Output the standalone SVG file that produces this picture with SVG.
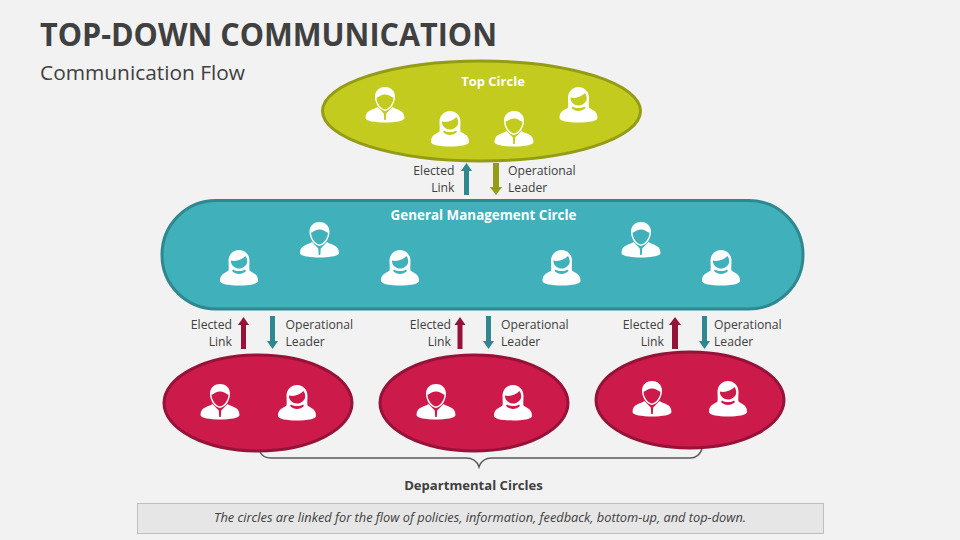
<svg xmlns="http://www.w3.org/2000/svg" width="960" height="540" viewBox="0 0 960 540">
<style>
text{font-family:"Open Sans","Liberation Sans",sans-serif;fill:#404040}
.lbl{font-size:12.200px}
.end{text-anchor:end}
.head{font-weight:700;fill:#fff;text-anchor:middle}
.red{fill:#CC1A4A;stroke:#961239;stroke-width:3}
.ic{fill:#fff;fill-rule:evenodd}
</style>
<defs>
<symbol id="male" overflow="visible" viewBox="-20 0 40 38" width="40" height="38">
<path class="ic" d="M-10,10C-10,3-5,0 0,0C5,0 10,3 10,10C10,16 6,23 0,24C-6,23-10,16-10,10ZM-8.500,10.500C-6,10.500-4,7 0,7.500C4,7 6,10.500 8.500,10.500C8.500,16 4,22 0,22.500C-4,22-8.500,16-8.500,10.500Z"/>
<path class="ic" d="M-7.500,20C-11,23-19.500,22.500-19.500,31C-19.500,34-10,35.500 0,35.500C10,35.500 19.500,34 19.500,31C19.500,22.500 11,23 7.500,20L1.200,26.500L.8,33H-.8L-1.200,26.500Z"/>
</symbol>
<symbol id="female" overflow="visible" viewBox="-20 0 40 38" width="40" height="38">
<path class="ic" d="M-10.500,11C-10.500,4-5.500,0 0,0C5.500,0 10.500,4 10.500,11C10.500,15 10,18 10.500,20.500C14,23.500 19,23.500 19,31C19,34 10,35.500 0,35.500C-10,35.500-19,34-19,31C-19,23.500-14,23.500-10.500,20.500C-10,18-10.500,15-10.500,11ZM-8,10.500C-3,12 3,9.500 6.500,6C8,8 8.500,11 8,13C7,16.500 3,18.500 0,18.500C-4,18.500-8.500,15-8,10.500ZM-6,19.500C-3,21.500 3,21.500 6,19.500L7,21C3,25-3,25-7,21Z"/>
</symbol>
</defs>
<rect width="960" height="540" fill="#F2F2F2"/>
<text x="40" y="46" font-size="33" font-weight="700" textLength="457" lengthAdjust="spacingAndGlyphs">TOP-DOWN COMMUNICATION</text>
<text x="40" y="80" font-size="20" textLength="205" lengthAdjust="spacingAndGlyphs">Communication Flow</text>

<g id="connectors">
<path d="M260,452C262,456 265,458 271,458H466C472,458 477,461 479,467C481,461 486,458 492,458H690C696,458 700,455 702,449" fill="none" stroke="#595959" stroke-width="1.500"/>
<path fill="#2F8790" d="M464,195V171H461L466.500,163L472,171H469V195Z"/>
<path fill="#949B14" d="M493,163V187H490L496,195L502,187H499V163Z"/>
<path fill="#961239" d="M241,349V325H238L243.500,317L249,325H246V349Z"/>
<path fill="#2F8790" d="M270,316V341H267L272.500,349L278,341H275V316Z"/>
<path fill="#961239" d="M457.500,349V325H454.500L460,317L465.500,325H462.500V349Z"/>
<path fill="#2F8790" d="M486,316V341H483L488.500,349L494,341H491V316Z"/>
<path fill="#961239" d="M672,349V325H669L675,317L681,325H678V349Z"/>
<path fill="#2F8790" d="M702,316V341H699L704.500,349L710,341H707V316Z"/>
</g>

<g id="top-circle">
<ellipse cx="481.500" cy="111" rx="159" ry="50" fill="#C3CB1F" stroke="#949B14" stroke-width="3"/>
<text class="head" x="493" y="86" font-size="13">Top Circle</text>
<use href="#male" x="365" y="87"/>
<use href="#female" x="430" y="111"/>
<use href="#male" x="494" y="111"/>
<use href="#female" x="558.500" y="87"/>
</g>
<g id="general-management-circle">
<rect x="162" y="200.500" width="641" height="108.500" rx="54" fill="#40B0BB" stroke="#2F8790" stroke-width="3"/>
<text class="head" x="483.500" y="220" font-size="13.400">General Management Circle</text>
<use href="#female" x="219" y="250"/>
<use href="#male" x="299.500" y="222"/>
<use href="#female" x="380" y="250"/>
<use href="#female" x="541.500" y="250"/>
<use href="#male" x="621" y="222"/>
<use href="#female" x="701" y="250"/>
</g>
<g id="dept-circle-1">
<ellipse class="red" cx="258" cy="403" rx="94" ry="48"/>
<use href="#male" x="200" y="384"/>
<use href="#female" x="277" y="385"/>
</g>
<g id="dept-circle-2">
<ellipse class="red" cx="474" cy="403" rx="94" ry="48"/>
<use href="#male" x="416" y="384"/>
<use href="#female" x="493" y="385"/>
</g>
<g id="dept-circle-3">
<ellipse class="red" cx="690" cy="400" rx="94" ry="48"/>
<use href="#male" x="632" y="381"/>
<use href="#female" x="708" y="381"/>
</g>

<g id="labels">
<text class="lbl end" x="454.500" y="175">Elected</text><text class="lbl end" x="454.500" y="192">Link</text>
<text class="lbl" x="508" y="175">Operational</text><text class="lbl" x="508" y="192">Leader</text>
<text class="lbl end" x="232" y="329">Elected</text><text class="lbl end" x="232" y="346">Link</text>
<text class="lbl" x="285.500" y="329">Operational</text><text class="lbl" x="285.500" y="346">Leader</text>
<text class="lbl end" x="451" y="329">Elected</text><text class="lbl end" x="451" y="346">Link</text>
<text class="lbl" x="501" y="329">Operational</text><text class="lbl" x="501" y="346">Leader</text>
<text class="lbl end" x="664" y="329">Elected</text><text class="lbl end" x="664" y="346">Link</text>
<text class="lbl" x="714" y="329">Operational</text><text class="lbl" x="714" y="346">Leader</text>
<text x="473.500" y="490" font-size="13.100" font-weight="700" text-anchor="middle">Departmental Circles</text>
</g>
<g id="caption">
<rect x="137.500" y="503.500" width="686" height="30" fill="#E6E6E6" stroke="#BFBFBF"/>
<text x="480" y="522" font-size="12.800" font-style="italic" text-anchor="middle">The circles are linked for the flow of policies, information, feedback, bottom-up, and top-down.</text>
</g>
</svg>
